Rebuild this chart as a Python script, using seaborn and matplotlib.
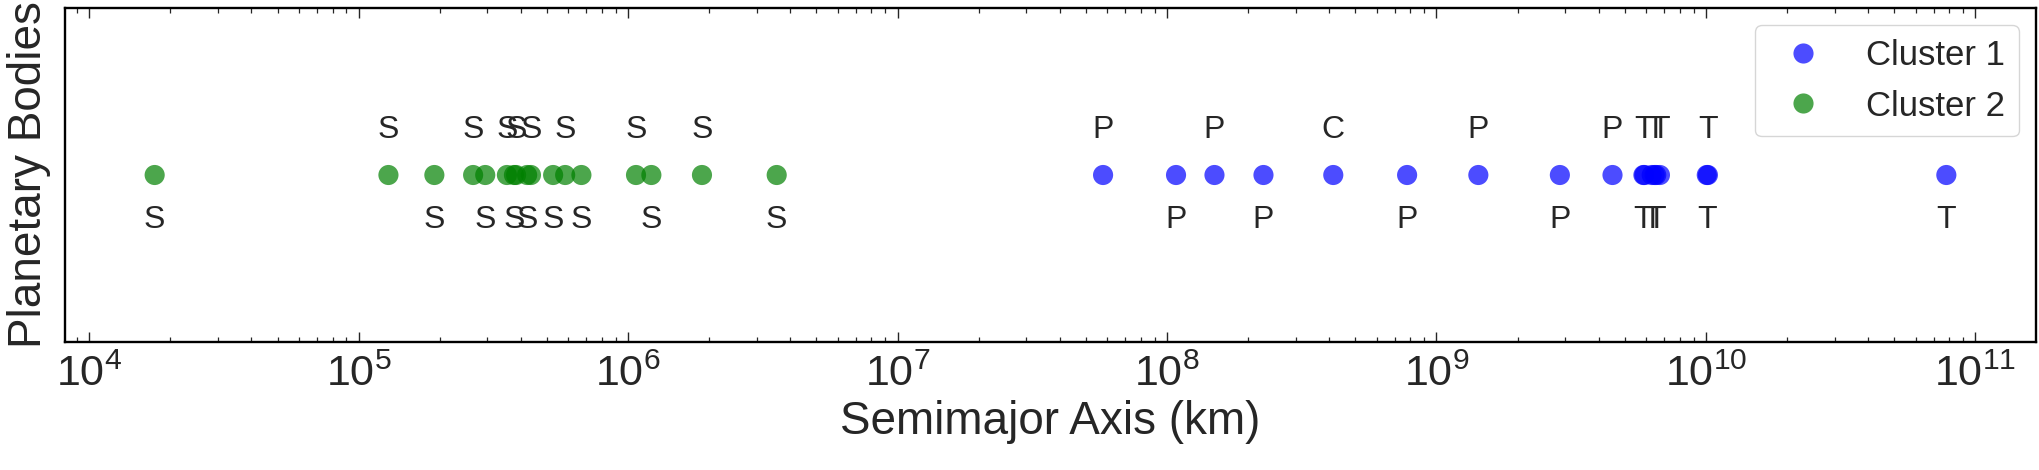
import numpy as np
import pandas as pd
import seaborn as sns
import matplotlib.pyplot as plt

# semimajor axes (km)
moon_axis = [1.75e4, 1.29e5, 1.91e5, 2.66e5, 2.95e5, 3.55e5, 3.77e5, 3.84e5,
             4.22e5, 4.36e5, 5.27e5, 5.84e5, 6.71e5, 1.07e6, 1.22e6, 1.88e6, 3.56e6]
moon_type = ["S"] * len(moon_axis)

body_axis = [5.79e7, 1.08e8, 1.50e8, 2.28e8, 4.14e8, 7.78e8, 1.43e9, 2.87e9, 4.50e9,
             5.86e9, 5.91e9, 6.29e9, 6.45e9, 6.54e9, 6.75e9, 1.007e10, 1.017e10, 7.8e10]
body_type = ["P", "P", "P", "P", "C", "P", "P", "P", "P",
             "T", "T", "T", "T", "T", "T", "T", "T", "T"]

cluster_names = ["Cluster 1", "Cluster 2"]
cluster_colors = ["blue", "green"]

df = pd.DataFrame({
    "axis": body_axis + moon_axis,
    "type": body_type + moon_type,
    "cluster": ["Cluster 1"] * len(body_axis) + ["Cluster 2"] * len(moon_axis),
})
df = df.sort_values("axis").reset_index(drop=True)
df["y"] = 0.0

sns.set_style("white", rc={"axes.edgecolor": "black", "xtick.direction": "in",
                           "xtick.bottom": True, "xtick.top": True})
plt.rcParams["font.family"] = ["Liberation Sans", "DejaVu Sans"]
plt.rcParams["mathtext.fontset"] = "custom"
plt.rcParams["mathtext.rm"] = "Liberation Sans"
plt.rcParams["mathtext.it"] = "Liberation Sans:italic"
plt.rcParams["mathtext.default"] = "regular"

fig, ax = plt.subplots(figsize=(20.4, 4.7), dpi=100)
fig.subplots_adjust(left=0.0319, right=0.998, top=0.983, bottom=0.2723)
ax.set_xscale("log")

sns.scatterplot(data=df, x="axis", y="y", hue="cluster", hue_order=cluster_names,
                palette=dict(zip(cluster_names, cluster_colors)),
                s=210, alpha=0.7, linewidth=0, ax=ax)

# labels alternate below / above the line
for i, row in df.iterrows():
    yoff = 0.27 if i % 2 else -0.27
    ax.text(row["axis"], yoff, row["type"], ha="center", va="center",
            fontsize=23, color="#262626")

ax.set_ylim(-1, 1)
ax.set_yticks([])
ax.set_xlabel("Semimajor Axis (km)", fontsize=33, color="#262626", labelpad=4)
ax.set_ylabel("Planetary Bodies", fontsize=33, color="#262626", labelpad=10)
ax.tick_params(axis="x", which="major", length=7, width=1, labelsize=31, pad=9,
               direction="in", top=True, bottom=True, labelcolor="#262626")
ax.tick_params(axis="x", which="minor", length=3.6, width=0.9,
               direction="in", top=True, bottom=True)
for sp in ax.spines.values():
    sp.set_visible(True)
    sp.set_color("black")
    sp.set_linewidth(1.7)

sns.move_legend(ax, "upper right", title=None, fontsize=25, frameon=True)

plt.savefig("out.png", dpi=100)
